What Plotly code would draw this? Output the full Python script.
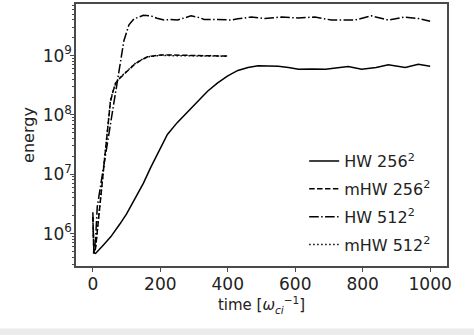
import plotly.graph_objects as go

# ---- data: time in units of 1/omega_ci, energy as log10 values ----
t_hw256 = [0, 8, 30, 53, 80, 100, 122, 150, 172, 200, 221, 250, 280, 310, 340,
           370, 400, 430, 460, 490, 520, 550, 580, 610, 650, 690, 720, 757, 797,
           840, 876, 900, 926, 965, 1000]
log_e_hw256 = [5.68, 5.665, 5.80, 5.945, 6.16, 6.33, 6.56, 6.85, 7.12, 7.44, 7.67,
               7.87, 8.05, 8.23, 8.40, 8.54, 8.66, 8.75, 8.80, 8.83, 8.83, 8.82,
               8.80, 8.77, 8.775, 8.77, 8.79, 8.815, 8.77, 8.80, 8.845, 8.82,
               8.80, 8.855, 8.82]

t_mhw256 = [0, 3, 8, 20, 30, 40, 52, 60, 68, 80, 95, 107, 125, 142, 162, 180,
            202, 230, 260, 300, 340, 370, 400]
log_e_mhw256 = [6.28, 5.67, 5.75, 6.40, 6.97, 7.55, 8.22, 8.40, 8.54, 8.62, 8.70,
                8.77, 8.86, 8.92, 8.98, 8.995, 9.01, 9.01, 9.005, 9.0, 9.0,
                8.995, 8.995]

t_hw512 = [0, 3, 8, 13, 30, 45, 58, 77, 92, 107, 122, 137, 150, 172, 190, 211,
           230, 251, 270, 291, 310, 330, 355, 380, 410, 430, 469, 509, 559, 608,
           658, 707, 777, 826, 876, 925, 965, 1000]
log_e_hw512 = [6.36, 5.67, 5.90, 6.45, 7.06, 7.60, 8.06, 8.79, 9.25, 9.52, 9.62,
               9.65, 9.68, 9.67, 9.63, 9.60, 9.61, 9.60, 9.63, 9.67, 9.65, 9.61,
               9.61, 9.60, 9.60, 9.62, 9.65, 9.625, 9.65, 9.635, 9.65, 9.60,
               9.60, 9.67, 9.60, 9.65, 9.625, 9.58]

t_mhw512 = [0, 3, 8, 20, 30, 40, 52, 60, 68, 80, 95, 107, 125, 142, 162, 180,
            202, 230, 260, 300, 340, 370, 400]
log_e_mhw512 = [6.25, 5.68, 5.76, 6.42, 6.99, 7.57, 8.24, 8.41, 8.55, 8.63, 8.71,
                8.78, 8.865, 8.925, 8.98, 8.99, 9.005, 9.0, 9.0, 8.995, 9.0,
                8.99, 8.99]

series = [
    ("HW 256<sup>2</sup>", t_hw256, log_e_hw256, "solid"),
    ("mHW 256<sup>2</sup>", t_mhw256, log_e_mhw256, "5.5px,2.4px"),
    ("HW 512<sup>2</sup>", t_hw512, log_e_hw512, "9.6px,2.4px,1.5px,2.4px"),
    ("mHW 512<sup>2</sup>", t_mhw512, log_e_mhw512, "1.5px,2.5px"),
]

x_ticks = [0, 200, 400, 600, 800, 1000]
y_ticks = [1e6, 1e7, 1e8, 1e9]
y_tick_text = ["10<sup>6</sup>", "10<sup>7</sup>", "10<sup>8</sup>", "10<sup>9</sup>"]
y_minor = [m * 10 ** e for e in range(5, 10) for m in range(2, 10)]

fig = go.Figure()
for i, (name, t, loge, dash) in enumerate(series):
    fig.add_trace(go.Scatter(
        x=t, y=[10 ** v for v in loge], mode="lines", name=name,
        legendgroup=str(i),
        line=dict(color="black", width=1.5, dash=dash),
    ))

axis_color = "#4a4a4a"
font = dict(family="DejaVu Sans", size=17, color="#222222")

fig.update_layout(
    width=474, height=335,
    margin=dict(l=76, r=27, t=2, b=69),
    paper_bgcolor="white", plot_bgcolor="white",
    font=font,
    showlegend=True,
    legend=dict(x=0.615, y=0.465, xanchor="left", yanchor="top",
                bgcolor="rgba(0,0,0,0)", borderwidth=0,
                font=dict(family="DejaVu Sans", size=16, color="#222222"),
                tracegroupgap=4, itemwidth=30),
    xaxis=dict(range=[-50, 1050], tickvals=x_ticks, ticks="outside", ticklen=4,
               tickcolor=axis_color, showline=True, linecolor=axis_color,
               linewidth=1.5, mirror=True, showgrid=False, zeroline=False,
               ticklabelstandoff=-2,
               title=dict(text="time [<i>ω</i><sub><i>ci</i></sub><sup>−1</sup>]",
                          font=dict(size=15), standoff=0)),
    yaxis=dict(type="log", range=[5.453, 9.87], tickvals=y_ticks,
               ticktext=y_tick_text, ticks="outside", ticklen=4,
               tickcolor=axis_color, showline=True, linecolor=axis_color,
               linewidth=1.5, mirror=True, showgrid=False, zeroline=False,
               ticklabelstandoff=-5,
               minor=dict(tickvals=y_minor, ticks="outside", ticklen=2,
                          tickcolor=axis_color),
               title=dict(text="energy", font=dict(size=16), standoff=4)),
    shapes=[dict(type="rect", xref="paper", yref="paper",
                 x0=-0.25, x1=1.1, y0=-0.27, y1=-0.239,
                 fillcolor="#ebebeb", line=dict(width=0), layer="above")],
)

fig.write_html("out.html")
